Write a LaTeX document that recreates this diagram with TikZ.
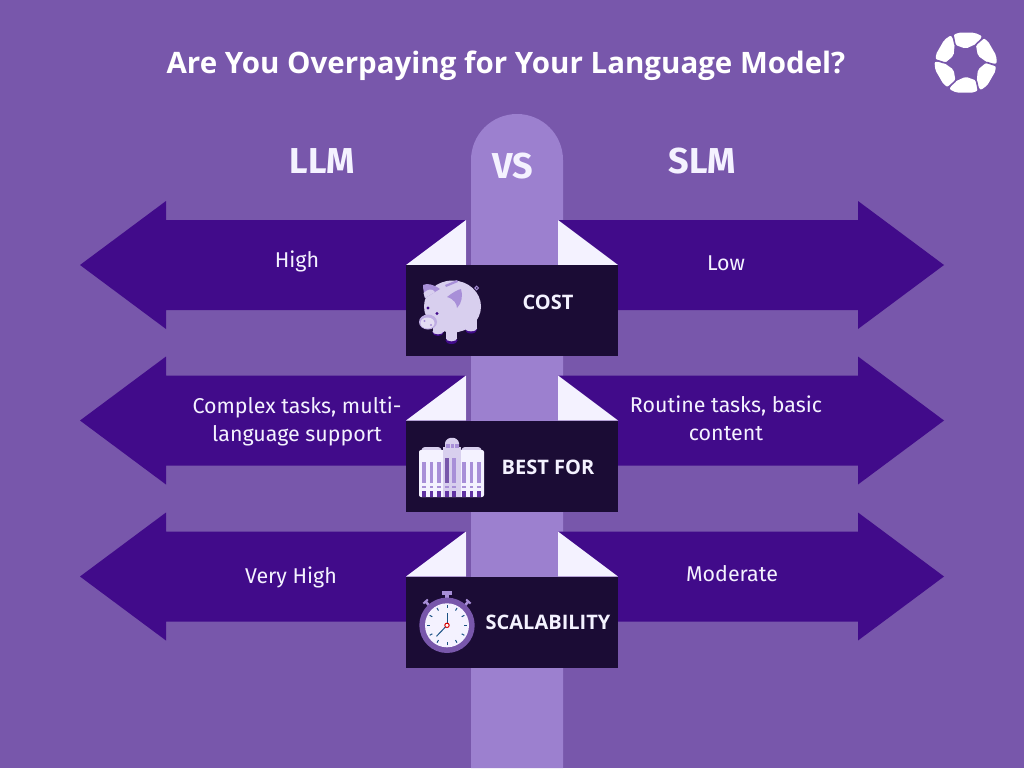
\documentclass[tikz,border=0pt]{standalone}
\usepackage{fontspec}
\setmainfont{Open Sans}
\newfontfamily\headfont{Fira Sans}
\newfontfamily\bodyfont{Fira Sans}
\definecolor{bgc}{HTML}{7857AB}
\definecolor{shaftc}{HTML}{410B8A}
\definecolor{colc}{HTML}{9C80CF}
\definecolor{boxc}{HTML}{1B0C35}
\definecolor{paperc}{HTML}{F4F2FF}
\definecolor{lilac}{HTML}{D8CFEE}
\definecolor{midl}{HTML}{A88FD8}
\tikzset{
 x=1pt,y=-1pt,
 bodytext/.style={text=paperc,font=\bodyfont\fontsize{21.4}{28}\selectfont,align=center,inner sep=0pt},
 headtext/.style={text=paperc,font=\headfont\bfseries\fontsize{36}{40}\selectfont,inner sep=0pt},
 labeltext/.style={text=paperc,font=\bfseries\fontsize{20}{22}\selectfont,inner sep=0pt},
}
\newcommand{\rowshapes}[1]{%
 \begin{scope}[yshift=-#1pt]
 \fill[shaftc] (80,265) -- (166,201) -- (166,220) -- (466,220) -- (466,310) -- (166,310) -- (166,329) -- cycle;
 \fill[shaftc] (944,265) -- (858,201) -- (858,220) -- (558,220) -- (558,310) -- (858,310) -- (858,329) -- cycle;
 \fill[paperc] (406,265) -- (466,220) -- (466,265) -- cycle;
 \fill[paperc] (618,265) -- (558,220) -- (558,265) -- cycle;
 \fill[boxc] (406,265) rectangle (618,356);
 \end{scope}}
\begin{document}
\begin{tikzpicture}
\useasboundingbox (0,0) rectangle (1024,768);
\fill[bgc] (0,0) rectangle (1024,768);
% column
\fill[colc] (471,768) -- (471,160) arc[start angle=180,end angle=360,radius=46] -- (563,768) -- cycle;
\rowshapes{0}
\rowshapes{155.5}
\rowshapes{311.5}
% title and heads
\node[text=white,font=\bfseries\fontsize{29.5}{32}\selectfont,inner sep=0pt] (title) at (506,65.5) {Are You Overpaying for Your Language Model?};
\node[headtext] (llm) at (322,161) {LLM};
\node[headtext] (vs) at (512.5,166) {VS};
\node[headtext] (slm) at (702,161) {SLM};
% values
\node[bodytext] (v1) at (297,261) {High};
\node[bodytext] (w1) at (726,263) {Low};
\node[bodytext] (v2) at (297,421) {Complex tasks, multi-\\language support};
\node[bodytext] (w2) at (726,418.5) {Routine tasks, basic\\content};
\node[bodytext] (v3) at (291,577) {Very High};
\node[bodytext] (w3) at (732,574) {Moderate};
% labels
\node[labeltext] (l1) at (548,302.5) {COST};
\node[labeltext] (l2) at (548,467.5) {BEST FOR};
\node[labeltext] (l3) at (548,622) {SCALABILITY};
% pig
\begin{scope}[shift={(451,310)}]
 \fill[shaftc] (-13,22.5) circle[x radius=5.5,y radius=3.5];
 \fill[shaftc] (20,19.5) circle[x radius=6,y radius=4];
 \fill[shaftc] (0.5,30.5) circle[x radius=6,y radius=3.5];
 \fill[lilac] (-18.5,14) rectangle (-7.5,21.5);
 \fill[lilac] (14,10) rectangle (26,18.5);
 \fill[lilac] (-5,15) rectangle (6,28.5);
 \fill[lilac] (0.5,28.5) circle[x radius=5.5,y radius=2.8];
 \fill[lilac] (20,18.5) circle[x radius=6,y radius=2.8];
 \fill[lilac] (-13,21.5) circle[x radius=5.5,y radius=2.8];
 \draw[midl,line width=1pt] (25.7,-22) circle[radius=1.8];
 \fill[lilac] (1.5,-3.5) circle[x radius=28.5,y radius=26];
 \fill[midl] (-28,-25) .. controls (-24,-27) and (-18,-26) .. (-11,-21) -- (-26,-12) .. controls (-27,-17) and (-28,-21) .. (-28,-25) -- cycle;
 \fill[lilac] (-27.5,-17) .. controls (-23,-21) and (-19,-22) .. (-16,-18) -- (-26,-12) -- cycle;
 \fill[midl] (-6,-25) -- (6,-30) -- (7,-28) -- (-5,-23) -- cycle;
 \fill[midl] (-4,-13) .. controls (1,-17) and (6,-20) .. (10,-21) .. controls (12,-15) and (11,-7) .. (6,-2) .. controls (6,-6) and (3,-11) .. (-4,-13) -- cycle;
 \fill[shaftc] (-23,-2) circle[radius=1.6];
 \fill[shaftc] (-14,3.5) circle[radius=1.6];
 \fill[midl!55!lilac] (-23,12) circle[x radius=9,y radius=7.5];
 \fill[lilac!70!white] (-23.5,13) circle[x radius=7,y radius=5.5];
 \fill[midl] (-26.5,11) circle[radius=1.2];
 \fill[midl] (-20,15) circle[radius=1.2];
\end{scope}
% building
\begin{scope}[shift={(419,437)}]
 \fill[lilac,rounded corners=3pt] (1,20) -- (3,10) -- (22,10) -- (24,20) -- cycle;
 \fill[lilac,rounded corners=3pt] (41,20) -- (43,10) -- (62,10) -- (64,20) -- cycle;
 \fill[paperc,rounded corners=2pt] (0,13) rectangle (65,60);
 \foreach \x in {3,10.5,18,43,50.5,58} {
   \fill[midl] (\x,25) rectangle (\x+3.5,46);
   \fill[midl] (\x,48.5) rectangle (\x+3.5,51);
   \fill[shaftc!70!midl] (\x,53.5) rectangle (\x+3.5,60);
 }
 \fill[lilac] (24,10) rectangle (42,60);
 \fill[lilac] (26,10) -- (26,6) .. controls (27,-1) and (39,-1) .. (40,6) -- (40,10) -- cycle;
 \fill[midl] (27,7) rectangle (30.5,10.5);
 \fill[midl] (31.5,7) rectangle (35,10.5);
 \fill[midl] (36,7) rectangle (39.5,10.5);
 \fill[bgc] (26,21) rectangle (30,46);
 \fill[midl] (33,21) rectangle (37,46);
 \fill[midl] (26,48.5) rectangle (30,51);
 \fill[midl] (33,48.5) rectangle (37,51);
 \fill[shaftc!70!midl] (26,53.5) rectangle (30,60);
 \fill[shaftc!70!midl] (33,53.5) rectangle (37,60);
\end{scope}
% clock
\begin{scope}[shift={(447,625.3)}]
 \fill[midl] (-5,-34) rectangle (5,-30.5);
 \fill[midl] (-2,-31) rectangle (2,-26);
 \fill[midl,rotate=-42] (-3,-33) rectangle (3,-31);
 \fill[midl,rotate=42] (-3,-33) rectangle (3,-31);
 \fill[midl,rotate=-42] (-1.3,-32) rectangle (1.3,-26);
 \fill[midl,rotate=42] (-1.3,-32) rectangle (1.3,-26);
 \fill[bgc] (0,0) circle[radius=27.7];
 \fill[paperc] (0,0) circle[radius=22];
 \foreach \a in {0,30,...,330} {\draw[shaftc!40!teal,line width=1pt,rotate=\a] (0,-20) -- (0,-17);}
 \draw[shaftc!40!teal,line width=1pt] (0,0) -- (0,-12);
 \draw[shaftc!40!teal,line width=1pt] (0,0) -- (-10.5,11);
 \fill[white,draw=red!85!black,line width=1pt] (0,0) circle[radius=2.2];
\end{scope}
% logo
\begin{scope}[shift={(965.7,62.7)}]
 \foreach \a in {0,60,...,300} {
  \fill[white,rotate=\a,rounded corners=2pt] (-11,-18) -- (-13,-27) -- (-8,-30) -- (9,-30) -- (16.5,-26.5) -- (12,-19.5) -- (0,-14) -- cycle;
 }
 \foreach \a in {0,60,...,300} {
  \draw[bgc,line width=1.6pt,rotate=\a] (9,-16) -- (11,-19) -- (20,-27);
 }
\end{scope}
\end{tikzpicture}
\end{document}
